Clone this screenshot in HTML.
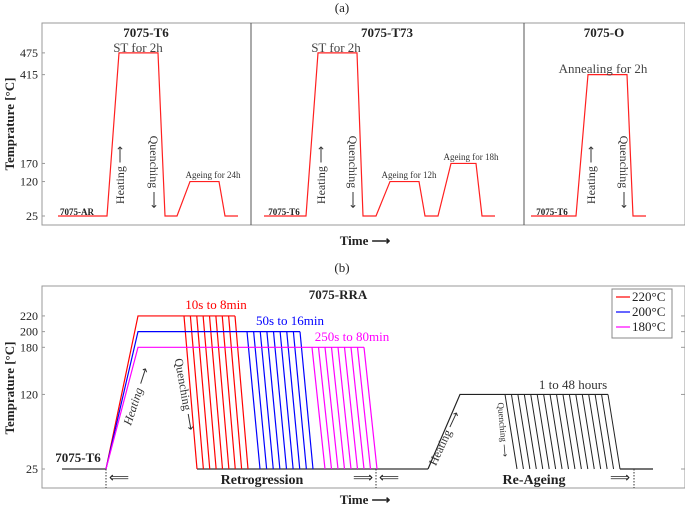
<!DOCTYPE html>
<html><head><meta charset="utf-8"><style>
body{margin:0;background:#fff}
svg{display:block;font-family:"Liberation Serif",serif}
</style></head><body>
<svg id="c" width="685" height="508" viewBox="0 0 685 508" xmlns="http://www.w3.org/2000/svg"></svg>
<script>
// ---- data: panel (a) temperature profiles (time in arbitrary units, temp in °C)
const aTicks=[25,120,170,415,475];
const t6Time=[0,49,61,100,107,119,132,161,167,180];
const t6Temp=[25,25,475,475,25,25,120,120,25,25];
const t73Time=[0,42,54,93,99,112,126,155,161,174,187,212,218,231];
const t73Temp=[25,25,475,475,25,25,120,120,25,25,170,170,25,25];
const oTime=[0,45,57,96,102,115];
const oTemp=[25,25,415,415,25,25];
// ---- data: panel (b)
const bTicks=[25,120,180,200,220];
const rraTemps=[220,200,180];
const rraColors=['#ff0000','#0000ff','#ff00ff'];
const rraHoldStart=[0,0,0];
const rraQuenchFirst=[46,109,174];
const rraQuenchLast=[97,162,226];
const rraCount=[9,9,9];
const reAgeTemp=120;
const reAgeTimes=[290,322,367,470,515];
const reAgeCount=17;

const svg=document.getElementById('c');
const NS='http://www.w3.org/2000/svg';
function el(tag,attrs,parent){const e=document.createElementNS(NS,tag);for(const k in attrs)e.setAttribute(k,attrs[k]);(parent||svg).appendChild(e);return e;}
function txt(s,x,y,o,parent){const e=el('text',Object.assign({x:x,y:y,'font-size':12,fill:'#222','text-anchor':'middle'},o||{}),parent);e.textContent=s;return e;}

const yA=v=>216-(v-25)*0.3625;
const yB=v=>469-(v-25)*0.785;
const xB=t=>138+t;

let e;
e=txt('(a)',342,12,{'font-size':13});
e=el('rect',{x:42,y:23,width:643,height:202,fill:'none',stroke:'#999','stroke-width':1});
[251,524].forEach(x=>{e=el('line',{x1:x,y1:23,x2:x,y2:225,stroke:'#555'});});
aTicks.forEach(v=>{
 e=txt(String(v),38,yA(v)+4,{'text-anchor':'end','font-size':12});
 e=el('line',{x1:42,y1:yA(v),x2:45,y2:yA(v),stroke:'#999'});
});
e=txt('Temprature [°C]',0,0,{'font-size':13,'font-weight':'bold',transform:'translate(14,124) rotate(-90)'});
e=txt('Time ⟶',365,245,{'font-size':13,'font-weight':'bold'});

function profile(times,temps,x0,name){
 const pts=times.map((t,i)=>(x0+t)+','+yA(temps[i])).join(' ');
 const p=el('polyline',{points:pts,fill:'none',stroke:'#ff2020','stroke-width':1.2});
 
 
}
profile(t6Time,t6Temp,58,'t6-profile');
profile(t73Time,t73Temp,264,'t73-profile');
profile(oTime,oTemp,531,'o-profile');

const aLabels=[
 ['7075-T6',146,37,{'font-weight':'bold','font-size':13}],
 ['ST for 2h',138,52,{'font-size':13,fill:'#444'}],
 ['7075-AR',77,215,{'font-weight':'bold','font-size':9}],
 ['Ageing for 24h',213,178,{'font-size':9,fill:'#333'}],
 ['7075-T73',387,37,{'font-weight':'bold','font-size':13}],
 ['ST for 2h',336,52,{'font-size':13,fill:'#444'}],
 ['7075-T6',284,215,{'font-weight':'bold','font-size':9}],
 ['Ageing for 12h',409,178,{'font-size':9,fill:'#333'}],
 ['Ageing for 18h',471,160,{'font-size':9,fill:'#333'}],
 ['7075-O',604,37,{'font-weight':'bold','font-size':13}],
 ['Annealing for 2h',603,73,{'font-size':13,fill:'#444'}],
 ['7075-T6',552,215,{'font-weight':'bold','font-size':9}]
];
aLabels.forEach(l=>{e=txt(l[0],l[1],l[2],l[3]);});
[[124,175,'Heating ⟶'],[325,175,'Heating ⟶'],[595,175,'Heating ⟶']].forEach(h=>{
 e=txt(h[2],0,0,{'font-size':12,fill:'#333',transform:'translate('+h[0]+','+h[1]+') rotate(-90)'});});
[[150,172],[349,172],[620,172]].forEach(h=>{
 e=txt('Quenching ⟶',0,0,{'font-size':12,fill:'#333',transform:'translate('+h[0]+','+h[1]+') rotate(90)'});});

e=txt('(b)',342,272,{'font-size':13});
e=el('rect',{x:42,y:286,width:643,height:202,fill:'none',stroke:'#999'});
bTicks.forEach(v=>{
 e=txt(String(v),38,yB(v)+4,{'text-anchor':'end','font-size':12});
 e=el('line',{x1:42,y1:yB(v),x2:45,y2:yB(v),stroke:'#999'});
 e=el('line',{x1:681,y1:yB(v),x2:685,y2:yB(v),stroke:'#999'});
});
e=txt('Temprature [°C]',0,0,{'font-size':13,'font-weight':'bold',transform:'translate(14,388) rotate(-90)'});
e=txt('Time ⟶',365,504,{'font-size':13,'font-weight':'bold'});

e=el('line',{x1:xB(-76),y1:yB(25),x2:xB(-32),y2:yB(25),stroke:'#333','stroke-width':1.2});
e=el('line',{x1:xB(59),y1:yB(25),x2:xB(reAgeTimes[0]),y2:yB(25),stroke:'#333','stroke-width':1.2});

const dq=13;
rraTemps.forEach((T,i)=>{
 const top=yB(T),bot=yB(25);
 e=el('polyline',{points:xB(-32)+','+bot+' '+xB(rraHoldStart[i])+','+top+' '+xB(rraQuenchLast[i])+','+top,fill:'none',stroke:rraColors[i],'stroke-width':1.2});
 
 
 for(let k=0;k<rraCount[i];k++){
  const t=rraQuenchFirst[i]+(rraQuenchLast[i]-rraQuenchFirst[i])*k/(rraCount[i]-1);
  e=el('line',{x1:xB(t),y1:top,x2:xB(t+dq),y2:bot,stroke:rraColors[i],'stroke-width':1.2});
  
  
 }
});
const raTop=yB(reAgeTemp),raBot=yB(25);
e=el('polyline',{points:xB(reAgeTimes[0])+','+raBot+' '+xB(reAgeTimes[1])+','+raTop+' '+xB(reAgeTimes[3])+','+raTop,fill:'none',stroke:'#222','stroke-width':1.2});


for(let k=0;k<reAgeCount;k++){
 const t=reAgeTimes[2]+(reAgeTimes[3]-reAgeTimes[2])*k/(reAgeCount-1);
 e=el('line',{x1:xB(t),y1:raTop,x2:xB(t+12),y2:raBot,stroke:'#222','stroke-width':1});
 
 
}
e=el('line',{x1:xB(reAgeTimes[3]+12),y1:raBot,x2:xB(reAgeTimes[4]),y2:raBot,stroke:'#222','stroke-width':1.2});



[106,376,634].forEach(x=>{e=el('line',{x1:x,y1:469,x2:x,y2:488,stroke:'#333','stroke-dasharray':'1.5,1.5'});});
const bLabels=[
 ['7075-T6',78,462,{'font-weight':'bold','font-size':13}],
 ['7075-RRA',338,299,{'font-weight':'bold','font-size':13}],
 ['10s to 8min',216,309,{'font-size':13,fill:'#ff0000'}],
 ['50s to 16min',290,325,{'font-size':13,fill:'#0000ff'}],
 ['250s to 80min',352,341,{'font-size':13,fill:'#ff00ff'}],
 ['1 to 48 hours',573,389,{'font-size':13,fill:'#333'}],
 ['Retrogression',262,484,{'font-weight':'bold','font-size':14}],
 ['Re-Ageing',534,484,{'font-weight':'bold','font-size':14}],
 ['⟸',119,482,{'font-size':14}],['⟹',363,482,{'font-size':14}],
 ['⟸',389,482,{'font-size':14}],['⟹',620,482,{'font-size':14}]
];
bLabels.forEach(l=>{e=txt(l[0],l[1],l[2],l[3]);});
e=txt('Heating ⟶',0,0,{'font-size':12,fill:'#333','font-style':'italic',transform:'translate(140,398) rotate(-72)'});
e=txt('Quenching ⟶',0,0,{'font-size':12,fill:'#333',transform:'translate(181,395) rotate(80)'});
e=txt('Heating ⟶',0,0,{'font-size':12,fill:'#333',transform:'translate(448,440) rotate(-65)'});
e=txt('Quenching ⟶',0,0,{'font-size':9,fill:'#333',transform:'translate(500,430) rotate(85)'});

const lg=el('g',{});
el('rect',{x:612,y:289,width:60,height:49,fill:'#fff',stroke:'#888'},lg);
rraTemps.forEach((T,i)=>{
 const y=301+i*15;
 const l=el('line',{x1:616,y1:y-4,x2:630,y2:y-4,stroke:rraColors[i],'stroke-width':1.2},lg);
 
 const t=txt(T+'°C',632,y,{'text-anchor':'start','font-size':13},lg);
 
});
</script>
</body></html>
